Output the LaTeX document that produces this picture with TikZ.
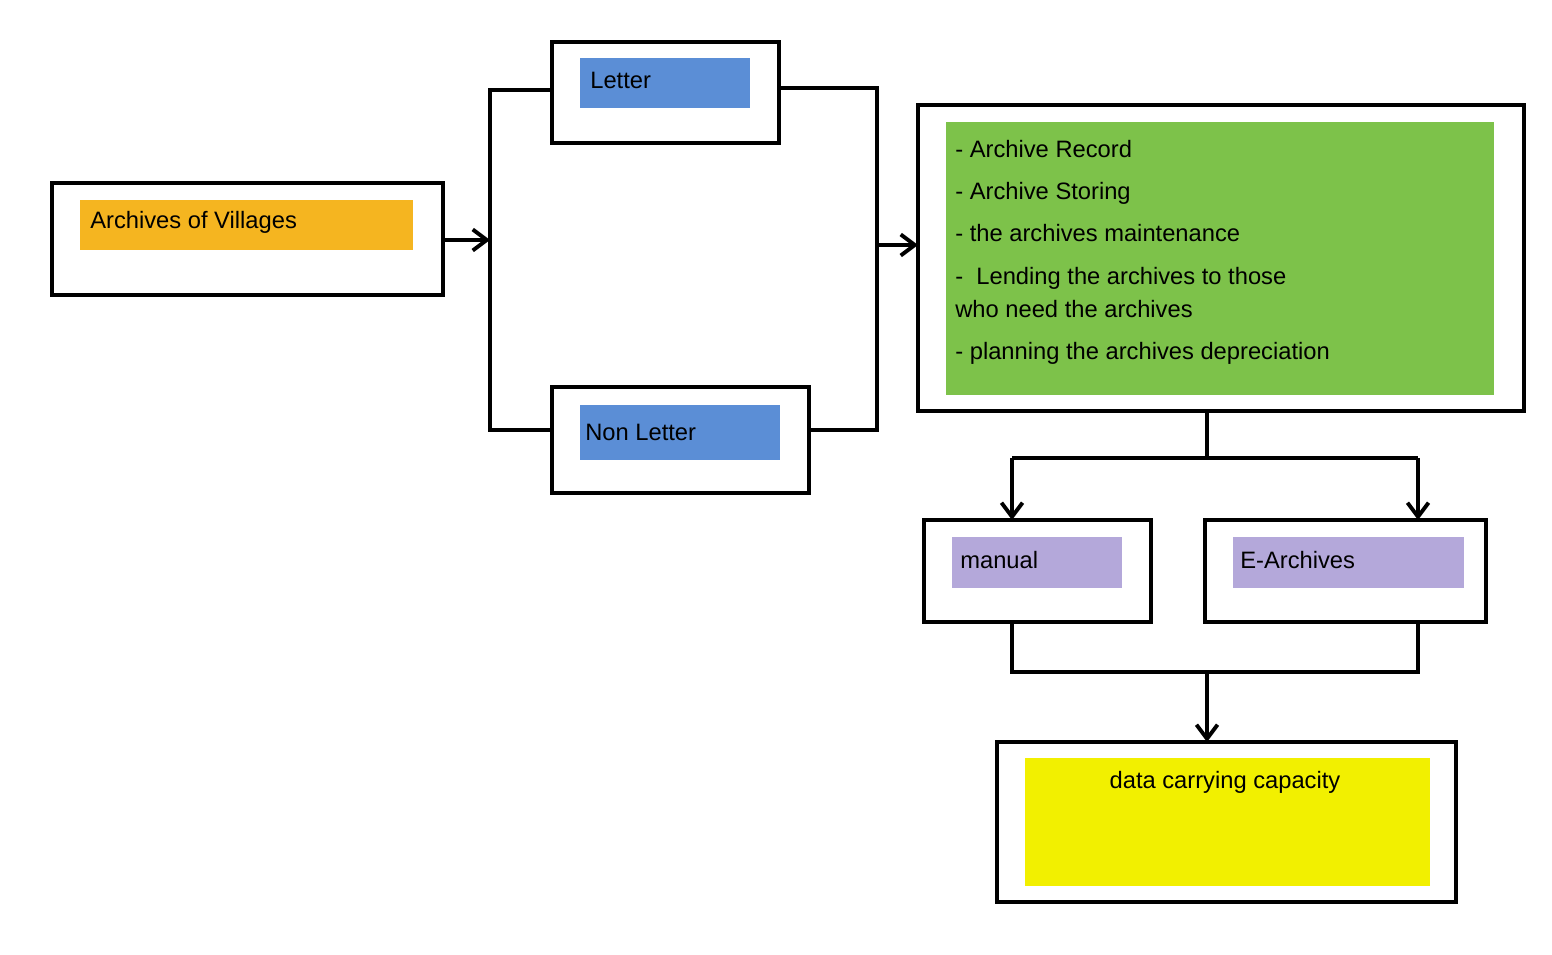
\documentclass[tikz,border=0pt]{standalone}
\usepackage{fontspec}
\setmainfont{Liberation Sans}
\usetikzlibrary{arrows.meta}
\definecolor{orng}{HTML}{F5B520}
\definecolor{blu}{HTML}{5B8ED6}
\definecolor{grn}{HTML}{7DC24A}
\definecolor{lav}{HTML}{B4A8DA}
\definecolor{yel}{HTML}{F2F000}
\begin{document}
\begin{tikzpicture}[x=0.02cm,y=-0.02cm,
  outer/.style={draw=black,line width=2.2pt,fill=white},
  lbl/.style={font=\fontsize{13.5}{16}\selectfont,anchor=west,inner sep=0pt},
  ln/.style={line width=2.2pt},
  arr/.style={ln,-{Straight Barb[length=8pt,width=12pt]}}]
\useasboundingbox (0,0) rectangle (1552,955);
\draw[outer] (52,183) rectangle (443,295);
\fill[orng] (80,200) rectangle (413,250);
\node[lbl] (arch) at (90,222) {Archives of Villages};
\coordinate (archE) at (443,240);

\draw[outer] (552,42) rectangle (779,143);
\fill[blu] (580,58) rectangle (750,108);
\node[lbl] (let) at (590,80) {Letter};
\draw[outer] (552,387) rectangle (809,493);
\fill[blu] (580,405) rectangle (780,460);
\node[lbl] (non) at (585,432) {Non Letter};

\draw[outer] (918,105) rectangle (1524,411);
\fill[grn] (946,122) rectangle (1494,395);
\node[lbl,anchor=north west,align=left,font=\fontsize{13.5}{24}\selectfont] (list) at (955,140)
 {- Archive Record\\- Archive Storing\\- the archives maintenance\\- \ Lending the archives to those\\[-5pt]who need the archives\\- planning the archives depreciation};

\draw[outer] (924,520) rectangle (1151,622);
\fill[lav] (952,537) rectangle (1122,588);
\node[lbl] (man) at (960,560) {manual};
\draw[outer] (1205,520) rectangle (1486,622);
\fill[lav] (1233,537) rectangle (1464,588);
\node[lbl] (ea) at (1240,560) {E-Archives};

\draw[outer] (997,742) rectangle (1456,902);
\fill[yel] (1025,758) rectangle (1430,886);
\node[lbl,anchor=center] (dc) at (1225,782) {data carrying capacity};

\coordinate (bl) at (490,240);
\draw[arr] (archE) -- (bl);
\draw[ln] (552,90) -- (490,90) -- (490,430) -- (552,430);
\draw[ln] (779,88) -- (877,88) -- (877,430) -- (809,430);
\coordinate (br) at (877,245);
\coordinate (gw) at (918,245);
\draw[arr] (br) -- (gw);
\draw[ln] (1207,411) -- (1207,458);
\draw[ln] (1012,458) -- (1418,458);
\coordinate (m1) at (1012,458); \coordinate (m2) at (1012,520);
\coordinate (e1) at (1418,458); \coordinate (e2) at (1418,520);
\draw[arr] (m1) -- (m2);
\draw[arr] (e1) -- (e2);
\draw[ln] (1012,622) -- (1012,672) -- (1418,672) -- (1418,622);
\coordinate (b1) at (1207,672); \coordinate (b2) at (1207,742);
\draw[arr] (b1) -- (b2);
\end{tikzpicture}
\end{document}
